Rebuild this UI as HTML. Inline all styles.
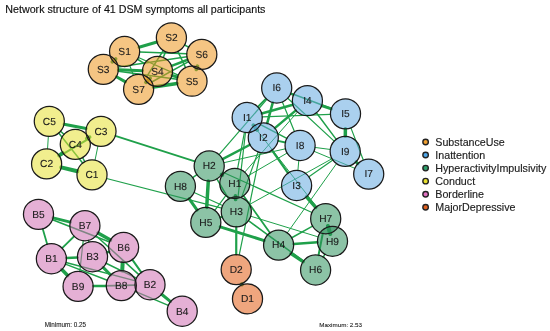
<!DOCTYPE html><html><head><meta charset="utf-8"><style>html,body{margin:0;padding:0;background:#fff}body{width:550px;height:331px;overflow:hidden;position:relative;font-family:"Liberation Sans",sans-serif}svg{position:absolute;left:0;top:0}</style></head><body>
<svg width="550" height="331" viewBox="0 0 550 331" font-family="Liberation Sans, sans-serif">
<g stroke="#1FA04A" stroke-linecap="round" fill="none">
<line x1="139.04" y1="47.27" x2="156.96" y2="42.03" stroke-width="3"/>
<line x1="112.28" y1="61.79" x2="115.62" y2="59.01" stroke-width="3.6"/>
<line x1="137.49" y1="59.26" x2="144.61" y2="63.54" stroke-width="1.5"/>
<line x1="138.37" y1="57.57" x2="178.23" y2="75.13" stroke-width="1.2"/>
<line x1="139.64" y1="52.06" x2="186.76" y2="53.84" stroke-width="1.5"/>
<line x1="129.83" y1="65.61" x2="133.37" y2="75.19" stroke-width="1.2"/>
<line x1="165.63" y1="51.7" x2="163.27" y2="57.4" stroke-width="1.5"/>
<line x1="177.85" y1="51.4" x2="185.55" y2="67.6" stroke-width="1.5"/>
<line x1="184.61" y1="45.01" x2="188.59" y2="47.19" stroke-width="1.5"/>
<line x1="163.32" y1="50.49" x2="146.68" y2="76.61" stroke-width="1.5"/>
<line x1="118.34" y1="69.85" x2="142.46" y2="70.75" stroke-width="3"/>
<line x1="118.22" y1="71.3" x2="177.08" y2="79.2" stroke-width="1.5"/>
<line x1="118.18" y1="67.05" x2="186.92" y2="56.65" stroke-width="1.5"/>
<line x1="116.39" y1="76.72" x2="125.51" y2="81.88" stroke-width="3"/>
<line x1="171.97" y1="75.45" x2="177.53" y2="77.05" stroke-width="3"/>
<line x1="171.56" y1="65.94" x2="187.74" y2="59.76" stroke-width="2.5"/>
<line x1="145.88" y1="82.37" x2="150.22" y2="78.23" stroke-width="3.6"/>
<line x1="197.51" y1="66.13" x2="196.29" y2="69.47" stroke-width="3.6"/>
<line x1="177.12" y1="83.46" x2="153.48" y2="87.04" stroke-width="3.5"/>
<line x1="188.63" y1="61.68" x2="151.77" y2="82.02" stroke-width="1.5"/>
<line x1="64.08" y1="124.16" x2="86.22" y2="128.44" stroke-width="3"/>
<line x1="48.35" y1="136.32" x2="47.55" y2="148.88" stroke-width="1"/>
<line x1="58.69" y1="133.06" x2="82.61" y2="163.04" stroke-width="1.5"/>
<line x1="60.57" y1="131.27" x2="64.03" y2="134.33" stroke-width="1.5"/>
<line x1="86.68" y1="138.54" x2="89.62" y2="137.06" stroke-width="3.6"/>
<line x1="97.95" y1="146.04" x2="95.05" y2="160.06" stroke-width="1"/>
<line x1="61.23" y1="167.41" x2="77.37" y2="171.29" stroke-width="4"/>
<line x1="59.03" y1="155.41" x2="62.87" y2="152.79" stroke-width="3.5"/>
<line x1="59.51" y1="156.16" x2="88.09" y2="139.04" stroke-width="2"/>
<line x1="82.53" y1="157.5" x2="84.77" y2="161.6" stroke-width="1.5"/>
<line x1="115.33" y1="135.9" x2="194.87" y2="161.4" stroke-width="1.8"/>
<line x1="106.58" y1="178.54" x2="221.72" y2="208.06" stroke-width="1.2"/>
<line x1="53.12" y1="217.89" x2="70.28" y2="222.11" stroke-width="3"/>
<line x1="42.7" y1="228.75" x2="47.2" y2="244.25" stroke-width="1.8"/>
<line x1="52.53" y1="219.76" x2="109.57" y2="241.94" stroke-width="1.5"/>
<line x1="74.18" y1="236.26" x2="62.12" y2="248.14" stroke-width="1.8"/>
<line x1="88.48" y1="240.32" x2="88.92" y2="242.08" stroke-width="1.5"/>
<line x1="98.03" y1="233.06" x2="110.47" y2="240.04" stroke-width="3.5"/>
<line x1="96.05" y1="235.81" x2="138.85" y2="274.59" stroke-width="1.5"/>
<line x1="83.22" y1="240.66" x2="79.78" y2="271.44" stroke-width="1.2"/>
<line x1="66.43" y1="257.97" x2="77.47" y2="257.43" stroke-width="2.5"/>
<line x1="61.84" y1="269.54" x2="67.66" y2="275.56" stroke-width="3.5"/>
<line x1="65.45" y1="264.11" x2="107.25" y2="280.19" stroke-width="1.5"/>
<line x1="65.95" y1="262.54" x2="135.45" y2="280.86" stroke-width="1.5"/>
<line x1="106.92" y1="252.39" x2="109.18" y2="251.71" stroke-width="2.5"/>
<line x1="103.12" y1="267.36" x2="110.68" y2="274.94" stroke-width="3"/>
<line x1="106.03" y1="263.29" x2="136.47" y2="278.11" stroke-width="1.5"/>
<line x1="122.7" y1="262.42" x2="122.2" y2="270.58" stroke-width="4"/>
<line x1="132.29" y1="259.68" x2="141.31" y2="272.42" stroke-width="2"/>
<line x1="93.15" y1="286.12" x2="106.25" y2="285.88" stroke-width="2.5"/>
<line x1="93.15" y1="286.04" x2="134.95" y2="285.06" stroke-width="1.8"/>
<line x1="161.62" y1="294.26" x2="170.58" y2="301.64" stroke-width="3"/>
<line x1="135.17" y1="291.43" x2="168.33" y2="305.37" stroke-width="1.5"/>
<line x1="290.61" y1="93.75" x2="293.49" y2="94.95" stroke-width="2"/>
<line x1="266.06" y1="98.64" x2="257.84" y2="106.86" stroke-width="2"/>
<line x1="272.79" y1="102.53" x2="267.21" y2="123.27" stroke-width="2.6"/>
<line x1="282.37" y1="101.94" x2="294.43" y2="131.56" stroke-width="1.2"/>
<line x1="290.79" y1="93.28" x2="331.41" y2="108.52" stroke-width="1.5"/>
<line x1="287.75" y1="98.22" x2="334.15" y2="141.18" stroke-width="1.2"/>
<line x1="261.7" y1="113.45" x2="292.9" y2="104.75" stroke-width="2.5"/>
<line x1="257.17" y1="130.08" x2="253.33" y2="125.22" stroke-width="3.6"/>
<line x1="260.5" y1="124.54" x2="286.8" y2="138.46" stroke-width="1.5"/>
<line x1="262.24" y1="116.93" x2="330.46" y2="114.37" stroke-width="1.2"/>
<line x1="256.42" y1="129.39" x2="316.48" y2="206.81" stroke-width="1"/>
<line x1="271.91" y1="150.14" x2="287.99" y2="173.16" stroke-width="2.2"/>
<line x1="274.82" y1="128.11" x2="295.88" y2="110.39" stroke-width="2.5"/>
<line x1="278.03" y1="140.88" x2="285.37" y2="142.42" stroke-width="2"/>
<line x1="321.63" y1="105.59" x2="331.27" y2="108.91" stroke-width="3"/>
<line x1="316.4" y1="112.77" x2="336.2" y2="139.33" stroke-width="1.5"/>
<line x1="345.38" y1="128.85" x2="345.32" y2="136.35" stroke-width="3.5"/>
<line x1="350.9" y1="127.85" x2="363.3" y2="160.05" stroke-width="1.2"/>
<line x1="356.02" y1="161.86" x2="357.88" y2="163.64" stroke-width="3"/>
<line x1="315.02" y1="147.45" x2="330.28" y2="149.45" stroke-width="1"/>
<line x1="313.99" y1="151.29" x2="354.81" y2="168.31" stroke-width="1"/>
<line x1="298.79" y1="160.49" x2="297.91" y2="170.51" stroke-width="1"/>
<line x1="332.88" y1="160.04" x2="308.92" y2="176.86" stroke-width="1.2"/>
<line x1="222.55" y1="159.04" x2="249.95" y2="144.76" stroke-width="2.5"/>
<line x1="219.05" y1="154.62" x2="266.85" y2="99.38" stroke-width="1.2"/>
<line x1="223.88" y1="162.69" x2="285.42" y2="148.81" stroke-width="1"/>
<line x1="237.58" y1="168.71" x2="244.42" y2="132.29" stroke-width="1.2"/>
<line x1="245.47" y1="132.45" x2="238.03" y2="196.85" stroke-width="1.2"/>
<line x1="241.46" y1="197.66" x2="258.14" y2="151.94" stroke-width="1.2"/>
<line x1="260.27" y1="152.54" x2="239.23" y2="254.86" stroke-width="1.2"/>
<line x1="247.81" y1="175.93" x2="287.09" y2="153.07" stroke-width="1"/>
<line x1="244.72" y1="172.18" x2="297.48" y2="112.02" stroke-width="1"/>
<line x1="249.46" y1="204.5" x2="332.04" y2="158.7" stroke-width="1"/>
<line x1="192.7" y1="177.63" x2="196.9" y2="174.67" stroke-width="1.5"/>
<line x1="189.06" y1="198.61" x2="197.14" y2="210.09" stroke-width="3"/>
<line x1="194.09" y1="192.55" x2="222.61" y2="205.55" stroke-width="1.2"/>
<line x1="208.29" y1="181.02" x2="206.71" y2="207.38" stroke-width="3.5"/>
<line x1="222.45" y1="175.06" x2="221.55" y2="174.44" stroke-width="3.6"/>
<line x1="216.86" y1="178.95" x2="228.64" y2="198.85" stroke-width="1.5"/>
<line x1="235.65" y1="199.53" x2="235.45" y2="195.77" stroke-width="3.6"/>
<line x1="220.02" y1="217.46" x2="222.08" y2="216.74" stroke-width="2"/>
<line x1="214.8" y1="210.33" x2="225.8" y2="195.57" stroke-width="1.2"/>
<line x1="220.17" y1="226.88" x2="264.23" y2="240.62" stroke-width="3"/>
<line x1="248.43" y1="220.7" x2="303.47" y2="261.1" stroke-width="1.5"/>
<line x1="291.09" y1="253.5" x2="303.11" y2="261.6" stroke-width="3.5"/>
<line x1="293.61" y1="244.04" x2="317.49" y2="242.36" stroke-width="2.5"/>
<line x1="291.73" y1="237.74" x2="312.57" y2="226.06" stroke-width="1.5"/>
<line x1="222.91" y1="172.2" x2="311.99" y2="212.5" stroke-width="1.2"/>
<line x1="250.69" y1="216.21" x2="318.11" y2="236.89" stroke-width="1"/>
<line x1="243.52" y1="195.77" x2="269.88" y2="232.83" stroke-width="1.8"/>
<line x1="330.32" y1="234.07" x2="327.88" y2="225.93" stroke-width="4"/>
<line x1="324.86" y1="254.27" x2="323.24" y2="257.03" stroke-width="1.5"/>
<line x1="322.79" y1="233.47" x2="318.51" y2="255.23" stroke-width="2"/>
<line x1="306.52" y1="196.82" x2="315.78" y2="207.38" stroke-width="3.5"/>
<line x1="287.32" y1="232.83" x2="336.48" y2="163.67" stroke-width="1"/>
<line x1="236.27" y1="226.85" x2="236.23" y2="254.55" stroke-width="2.2"/>
<line x1="241.98" y1="284.57" x2="241.72" y2="283.93" stroke-width="3.6"/>
</g>
<g fill-opacity="0.55">
<circle cx="124.6" cy="51.5" r="15.05" fill="#ED961E"/>
<circle cx="171.4" cy="37.8" r="15.05" fill="#ED961E"/>
<circle cx="103.3" cy="69.3" r="15.05" fill="#ED961E"/>
<circle cx="157.5" cy="71.3" r="15.05" fill="#ED961E"/>
<circle cx="192" cy="81.2" r="15.05" fill="#ED961E"/>
<circle cx="201.8" cy="54.4" r="15.05" fill="#ED961E"/>
<circle cx="138.6" cy="89.3" r="15.05" fill="#ED961E"/>
<circle cx="92" cy="174.8" r="15.05" fill="#E6E032"/>
<circle cx="46.6" cy="163.9" r="15.05" fill="#E6E032"/>
<circle cx="101" cy="131.3" r="15.05" fill="#E6E032"/>
<circle cx="75.3" cy="144.3" r="15.05" fill="#E6E032"/>
<circle cx="49.3" cy="121.3" r="15.05" fill="#E6E032"/>
<circle cx="51.4" cy="258.7" r="15.05" fill="#D06FB3"/>
<circle cx="150" cy="284.7" r="15.05" fill="#D06FB3"/>
<circle cx="92.5" cy="256.7" r="15.05" fill="#D06FB3"/>
<circle cx="182.2" cy="311.2" r="15.05" fill="#D06FB3"/>
<circle cx="38.5" cy="214.3" r="15.05" fill="#D06FB3"/>
<circle cx="123.6" cy="247.4" r="15.05" fill="#D06FB3"/>
<circle cx="84.9" cy="225.7" r="15.05" fill="#D06FB3"/>
<circle cx="121.3" cy="285.6" r="15.05" fill="#D06FB3"/>
<circle cx="78.1" cy="286.4" r="15.05" fill="#D06FB3"/>
<circle cx="247.2" cy="117.5" r="15.05" fill="#64AAE0"/>
<circle cx="263.3" cy="137.8" r="15.05" fill="#64AAE0"/>
<circle cx="296.6" cy="185.5" r="15.05" fill="#64AAE0"/>
<circle cx="307.4" cy="100.7" r="15.05" fill="#64AAE0"/>
<circle cx="345.5" cy="113.8" r="15.05" fill="#64AAE0"/>
<circle cx="276.7" cy="88" r="15.05" fill="#64AAE0"/>
<circle cx="368.7" cy="174.1" r="15.05" fill="#64AAE0"/>
<circle cx="300.1" cy="145.5" r="15.05" fill="#64AAE0"/>
<circle cx="345.2" cy="151.4" r="15.05" fill="#64AAE0"/>
<circle cx="234.8" cy="183.5" r="15.05" fill="#2E925D"/>
<circle cx="209.2" cy="166" r="15.05" fill="#2E925D"/>
<circle cx="236.3" cy="211.8" r="15.05" fill="#2E925D"/>
<circle cx="278.6" cy="245.1" r="15.05" fill="#2E925D"/>
<circle cx="205.8" cy="222.4" r="15.05" fill="#2E925D"/>
<circle cx="315.6" cy="270" r="15.05" fill="#2E925D"/>
<circle cx="325.7" cy="218.7" r="15.05" fill="#2E925D"/>
<circle cx="180.4" cy="186.3" r="15.05" fill="#2E925D"/>
<circle cx="332.5" cy="241.3" r="15.05" fill="#2E925D"/>
<circle cx="247.5" cy="298.9" r="15.05" fill="#E25D14"/>
<circle cx="236.2" cy="269.6" r="15.05" fill="#E25D14"/>
</g>
<g stroke="#1a1a1a" stroke-width="1.25" fill="none">
<circle cx="124.6" cy="51.5" r="15.05"/>
<circle cx="171.4" cy="37.8" r="15.05"/>
<circle cx="103.3" cy="69.3" r="15.05"/>
<circle cx="157.5" cy="71.3" r="15.05"/>
<circle cx="192" cy="81.2" r="15.05"/>
<circle cx="201.8" cy="54.4" r="15.05"/>
<circle cx="138.6" cy="89.3" r="15.05"/>
<circle cx="92" cy="174.8" r="15.05"/>
<circle cx="46.6" cy="163.9" r="15.05"/>
<circle cx="101" cy="131.3" r="15.05"/>
<circle cx="75.3" cy="144.3" r="15.05"/>
<circle cx="49.3" cy="121.3" r="15.05"/>
<circle cx="51.4" cy="258.7" r="15.05"/>
<circle cx="150" cy="284.7" r="15.05"/>
<circle cx="92.5" cy="256.7" r="15.05"/>
<circle cx="182.2" cy="311.2" r="15.05"/>
<circle cx="38.5" cy="214.3" r="15.05"/>
<circle cx="123.6" cy="247.4" r="15.05"/>
<circle cx="84.9" cy="225.7" r="15.05"/>
<circle cx="121.3" cy="285.6" r="15.05"/>
<circle cx="78.1" cy="286.4" r="15.05"/>
<circle cx="247.2" cy="117.5" r="15.05"/>
<circle cx="263.3" cy="137.8" r="15.05"/>
<circle cx="296.6" cy="185.5" r="15.05"/>
<circle cx="307.4" cy="100.7" r="15.05"/>
<circle cx="345.5" cy="113.8" r="15.05"/>
<circle cx="276.7" cy="88" r="15.05"/>
<circle cx="368.7" cy="174.1" r="15.05"/>
<circle cx="300.1" cy="145.5" r="15.05"/>
<circle cx="345.2" cy="151.4" r="15.05"/>
<circle cx="234.8" cy="183.5" r="15.05"/>
<circle cx="209.2" cy="166" r="15.05"/>
<circle cx="236.3" cy="211.8" r="15.05"/>
<circle cx="278.6" cy="245.1" r="15.05"/>
<circle cx="205.8" cy="222.4" r="15.05"/>
<circle cx="315.6" cy="270" r="15.05"/>
<circle cx="325.7" cy="218.7" r="15.05"/>
<circle cx="180.4" cy="186.3" r="15.05"/>
<circle cx="332.5" cy="241.3" r="15.05"/>
<circle cx="247.5" cy="298.9" r="15.05"/>
<circle cx="236.2" cy="269.6" r="15.05"/>
</g>
<g font-size="10.2" text-anchor="middle" fill="#1a1a1a" stroke="#1a1a1a" stroke-width="0.1" text-rendering="geometricPrecision">
<text x="124.6" y="54.8">S1</text>
<text x="171.4" y="41.1">S2</text>
<text x="103.3" y="72.6">S3</text>
<text x="157.5" y="74.6">S4</text>
<text x="192" y="84.5">S5</text>
<text x="201.8" y="57.7">S6</text>
<text x="138.6" y="92.6">S7</text>
<text x="92" y="178.1">C1</text>
<text x="46.6" y="167.2">C2</text>
<text x="101" y="134.6">C3</text>
<text x="75.3" y="147.6">C4</text>
<text x="49.3" y="124.6">C5</text>
<text x="51.4" y="262.0">B1</text>
<text x="150" y="288.0">B2</text>
<text x="92.5" y="260.0">B3</text>
<text x="182.2" y="314.5">B4</text>
<text x="38.5" y="217.6">B5</text>
<text x="123.6" y="250.7">B6</text>
<text x="84.9" y="229.0">B7</text>
<text x="121.3" y="288.9">B8</text>
<text x="78.1" y="289.7">B9</text>
<text x="247.2" y="120.8">I1</text>
<text x="263.3" y="141.1">I2</text>
<text x="296.6" y="188.8">I3</text>
<text x="307.4" y="104.0">I4</text>
<text x="345.5" y="117.1">I5</text>
<text x="276.7" y="91.3">I6</text>
<text x="368.7" y="177.4">I7</text>
<text x="300.1" y="148.8">I8</text>
<text x="345.2" y="154.7">I9</text>
<text x="234.8" y="186.8">H1</text>
<text x="209.2" y="169.3">H2</text>
<text x="236.3" y="215.1">H3</text>
<text x="278.6" y="248.4">H4</text>
<text x="205.8" y="225.7">H5</text>
<text x="315.6" y="273.3">H6</text>
<text x="325.7" y="222.0">H7</text>
<text x="180.4" y="189.6">H8</text>
<text x="332.5" y="244.6">H9</text>
<text x="247.5" y="302.2">D1</text>
<text x="236.2" y="272.9">D2</text>
</g>
<text x="5.3" y="13" font-size="10.7" fill="#111" stroke="#111" stroke-width="0.15">Network structure of 41 DSM symptoms all participants</text>
<circle cx="425.6" cy="142.0" r="2.75" fill="#F0A030" stroke="#222" stroke-width="1.4"/>
<text x="435.3" y="145.6" font-size="10.7" fill="#222" stroke="#222" stroke-width="0.15">SubstanceUse</text>
<circle cx="425.6" cy="155.05" r="2.75" fill="#4EA6E8" stroke="#222" stroke-width="1.4"/>
<text x="435.3" y="158.65" font-size="10.7" fill="#222" stroke="#222" stroke-width="0.15">Inattention</text>
<circle cx="425.6" cy="168.1" r="2.75" fill="#2E9E6A" stroke="#222" stroke-width="1.4"/>
<text x="435.3" y="171.7" font-size="10.7" fill="#222" stroke="#222" stroke-width="0.15">HyperactivityImpulsivity</text>
<circle cx="425.6" cy="181.15" r="2.75" fill="#E8E030" stroke="#222" stroke-width="1.4"/>
<text x="435.3" y="184.75" font-size="10.7" fill="#222" stroke="#222" stroke-width="0.15">Conduct</text>
<circle cx="425.6" cy="194.2" r="2.75" fill="#E070C0" stroke="#222" stroke-width="1.4"/>
<text x="435.3" y="197.79999999999998" font-size="10.7" fill="#222" stroke="#222" stroke-width="0.15">Borderline</text>
<circle cx="425.6" cy="207.25" r="2.75" fill="#E06020" stroke="#222" stroke-width="1.4"/>
<text x="435.3" y="210.85" font-size="10.7" fill="#222" stroke="#222" stroke-width="0.15">MajorDepressive</text>
<text x="44.7" y="326.8" font-size="6.3" fill="#222" stroke="#222" stroke-width="0.1">Minimum: 0.25</text>
<text x="319.3" y="326.8" font-size="6.25" fill="#222" stroke="#222" stroke-width="0.1">Maximum: 2.53</text>
</svg></body></html>
